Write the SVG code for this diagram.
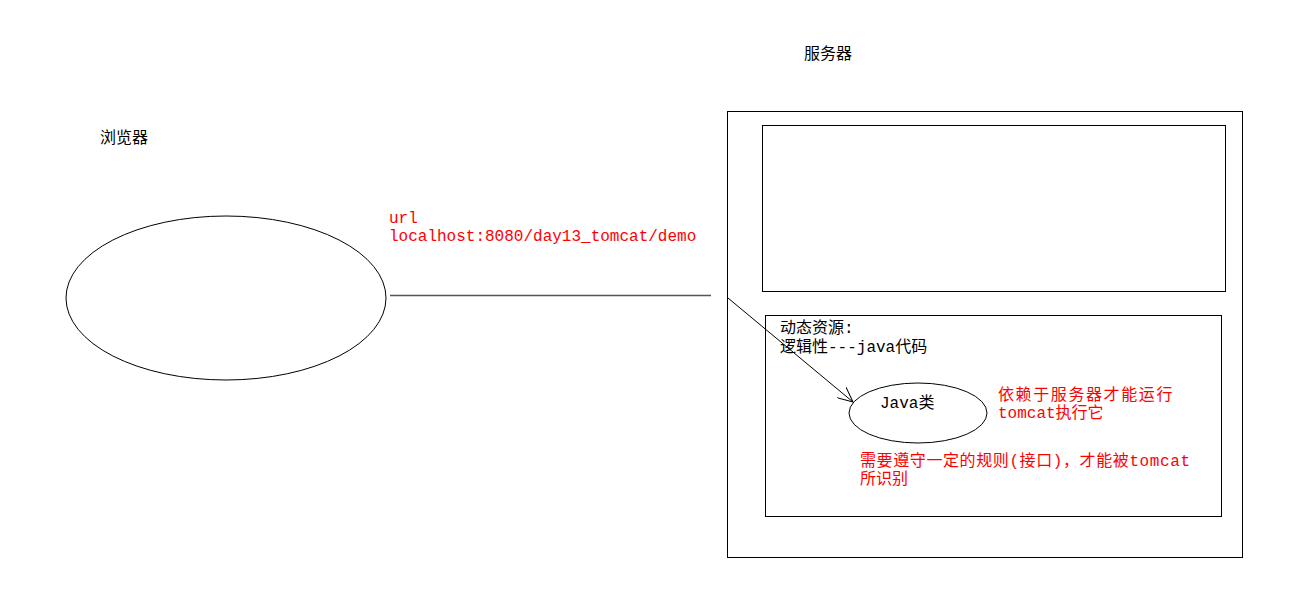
<svg xmlns="http://www.w3.org/2000/svg" width="1303" height="611" viewBox="0 0 1303 611">
<style>
.s{fill:none;stroke:#000;stroke-width:1}
.t{font-family:"Liberation Mono","Noto Sans CJK SC",monospace;font-size:16px;fill:#000}
.r{font-family:"Liberation Mono","Noto Sans CJK SC",monospace;font-size:16px;fill:#ff0000}
</style>
<defs><marker id="a" markerWidth="16" markerHeight="14" refX="15" refY="7" orient="auto" markerUnits="userSpaceOnUse"><path d="M0,0 L15,7 L0,14" fill="none" stroke="#000"/></marker></defs>
<rect width="1303" height="611" fill="#fff"/>
<g id="browser"><ellipse class="s" cx="226" cy="298" rx="160" ry="82"/><text class="t" x="100" y="143">浏览器</text></g>
<g id="server"><rect class="s" x="727.5" y="111.5" width="515" height="446"/><text class="t" x="804" y="59">服务器</text></g>
<g id="static"><rect class="s" x="762.5" y="125.5" width="463" height="166"/></g>
<g id="dynamic"><rect class="s" x="765.5" y="315.5" width="456" height="201"/>
<text class="t" x="780" y="333">动态资源:</text><text class="t" x="780" y="352">逻辑性---java代码</text></g>
<g id="javaclass"><ellipse class="s" cx="918" cy="413" rx="69" ry="30"/><text class="t" x="880" y="408">Java类</text></g>
<g id="labels">
<text class="r" x="389" y="223">url</text>
<text class="r" x="389" y="241">localhost:8080/day13_tomcat/demo</text>
<text class="r" x="998" y="400" letter-spacing="1.6">依赖于服务器才能运行</text>
<text class="r" x="998" y="418">tomcat执行它</text>
<text class="r" x="860" y="466" letter-spacing="0.6">需要遵守一定的规则(接口)，才能被tomcat</text>
<text class="r" x="860" y="484">所识别</text>
</g>
<g id="connectors">
<line x1="390" y1="295.5" x2="711" y2="295.5" stroke="#555" stroke-width="1.3"/>
<line class="s" x1="728" y1="298" x2="853" y2="402" marker-end="url(#a)"/>
</g>
</svg>
